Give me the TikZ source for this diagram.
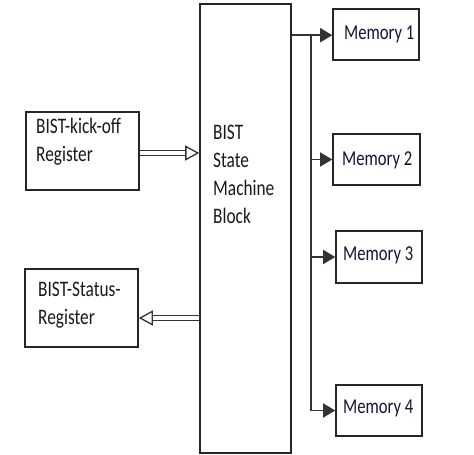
\documentclass[tikz,border=0pt]{standalone}
\usepackage{fontspec}
\setmainfont{Carlito}
\usepackage{graphicx}
\usetikzlibrary{arrows.meta,calc}
\newcommand{\stretchtxt}[1]{\scalebox{1}[1.28]{\begin{tabular}[t]{@{}l@{}}#1\end{tabular}}}
\begin{document}
\begin{tikzpicture}[x=1pt,y=-1pt,
  box/.style={draw=black!85, line width=1.6pt, inner sep=0pt, rectangle},
  lbl/.style={anchor=base west, inner sep=0pt, text=black!90, font=\fontsize{17.3}{22}\selectfont},
  mlbl/.style={anchor=base west, inner sep=0pt, text={rgb,255:red,20;green,20;blue,55}, font=\fontsize{16.6}{22}\selectfont},
  bus/.style={draw=black!80, line width=1.5pt},
  busarrow/.style={bus, -{Triangle[length=12pt,width=14pt]}},
  dbl/.style={draw=black!80, double=white, double distance=4.5pt, line width=1.2pt,
     -{Triangle[open,length=14pt,width=15pt,line width=1.3pt]}}
]
\useasboundingbox (0,0) rectangle (474,455);
\fill[white] (0,0) rectangle (474,455);

\node[box, minimum width=113pt, minimum height=78pt] (kick) at (82.5,151) {};
\node[box, minimum width=113pt, minimum height=78pt] (stat) at (81.5,308) {};
\node[box, minimum width=91pt, minimum height=449pt] (fsm) at (245.5,228.5) {};
\node[box, minimum width=86pt, minimum height=51pt] (m1) at (376,34.5) {};
\node[box, minimum width=87pt, minimum height=51pt] (m2) at (376.5,159.5) {};
\node[box, minimum width=86pt, minimum height=52pt] (m3) at (379,257) {};
\node[box, minimum width=86pt, minimum height=51pt] (m4) at (379,410.5) {};

\node[lbl] (tk) at (36,133) {\stretchtxt{BIST-kick-off\\Register}};
\node[lbl] (ts) at (38,296) {\stretchtxt{BIST-Status-\\Register}};
\node[lbl] (tf) at (213,139) {\stretchtxt{BIST\\State\\Machine\\Block}};
\node[mlbl] (t1) at (344,39) {\stretchtxt{Memory 1}};
\node[mlbl] (t2) at (342,165) {\stretchtxt{Memory 2}};
\node[mlbl] (t3) at (343,260) {\stretchtxt{Memory 3}};
\node[mlbl] (t4) at (343,413) {\stretchtxt{Memory 4}};

% bus
\coordinate (b0) at ($(fsm.north east)+(0,32)$);
\coordinate (bt) at ($(b0)+(19,0)$);
\draw[busarrow] (b0) -- (m1.west |- b0);
\draw[bus] (bt) -- (bt |- m4.west);
\draw[busarrow] (bt |- m2.west) -- (m2.west);
\draw[busarrow] (bt |- m3.west) -- (m3.west);
\draw[busarrow] (bt |- m4.west) -- (m4.west);

% register arrows
\coordinate (k0) at ($(kick.east)+(0,2)$);
\draw[dbl] (k0) -- (fsm.west |- k0);
\coordinate (s0) at ($(stat.east)+(0,10)$);
\draw[dbl] (fsm.west |- s0) -- (s0);
\end{tikzpicture}
\end{document}
